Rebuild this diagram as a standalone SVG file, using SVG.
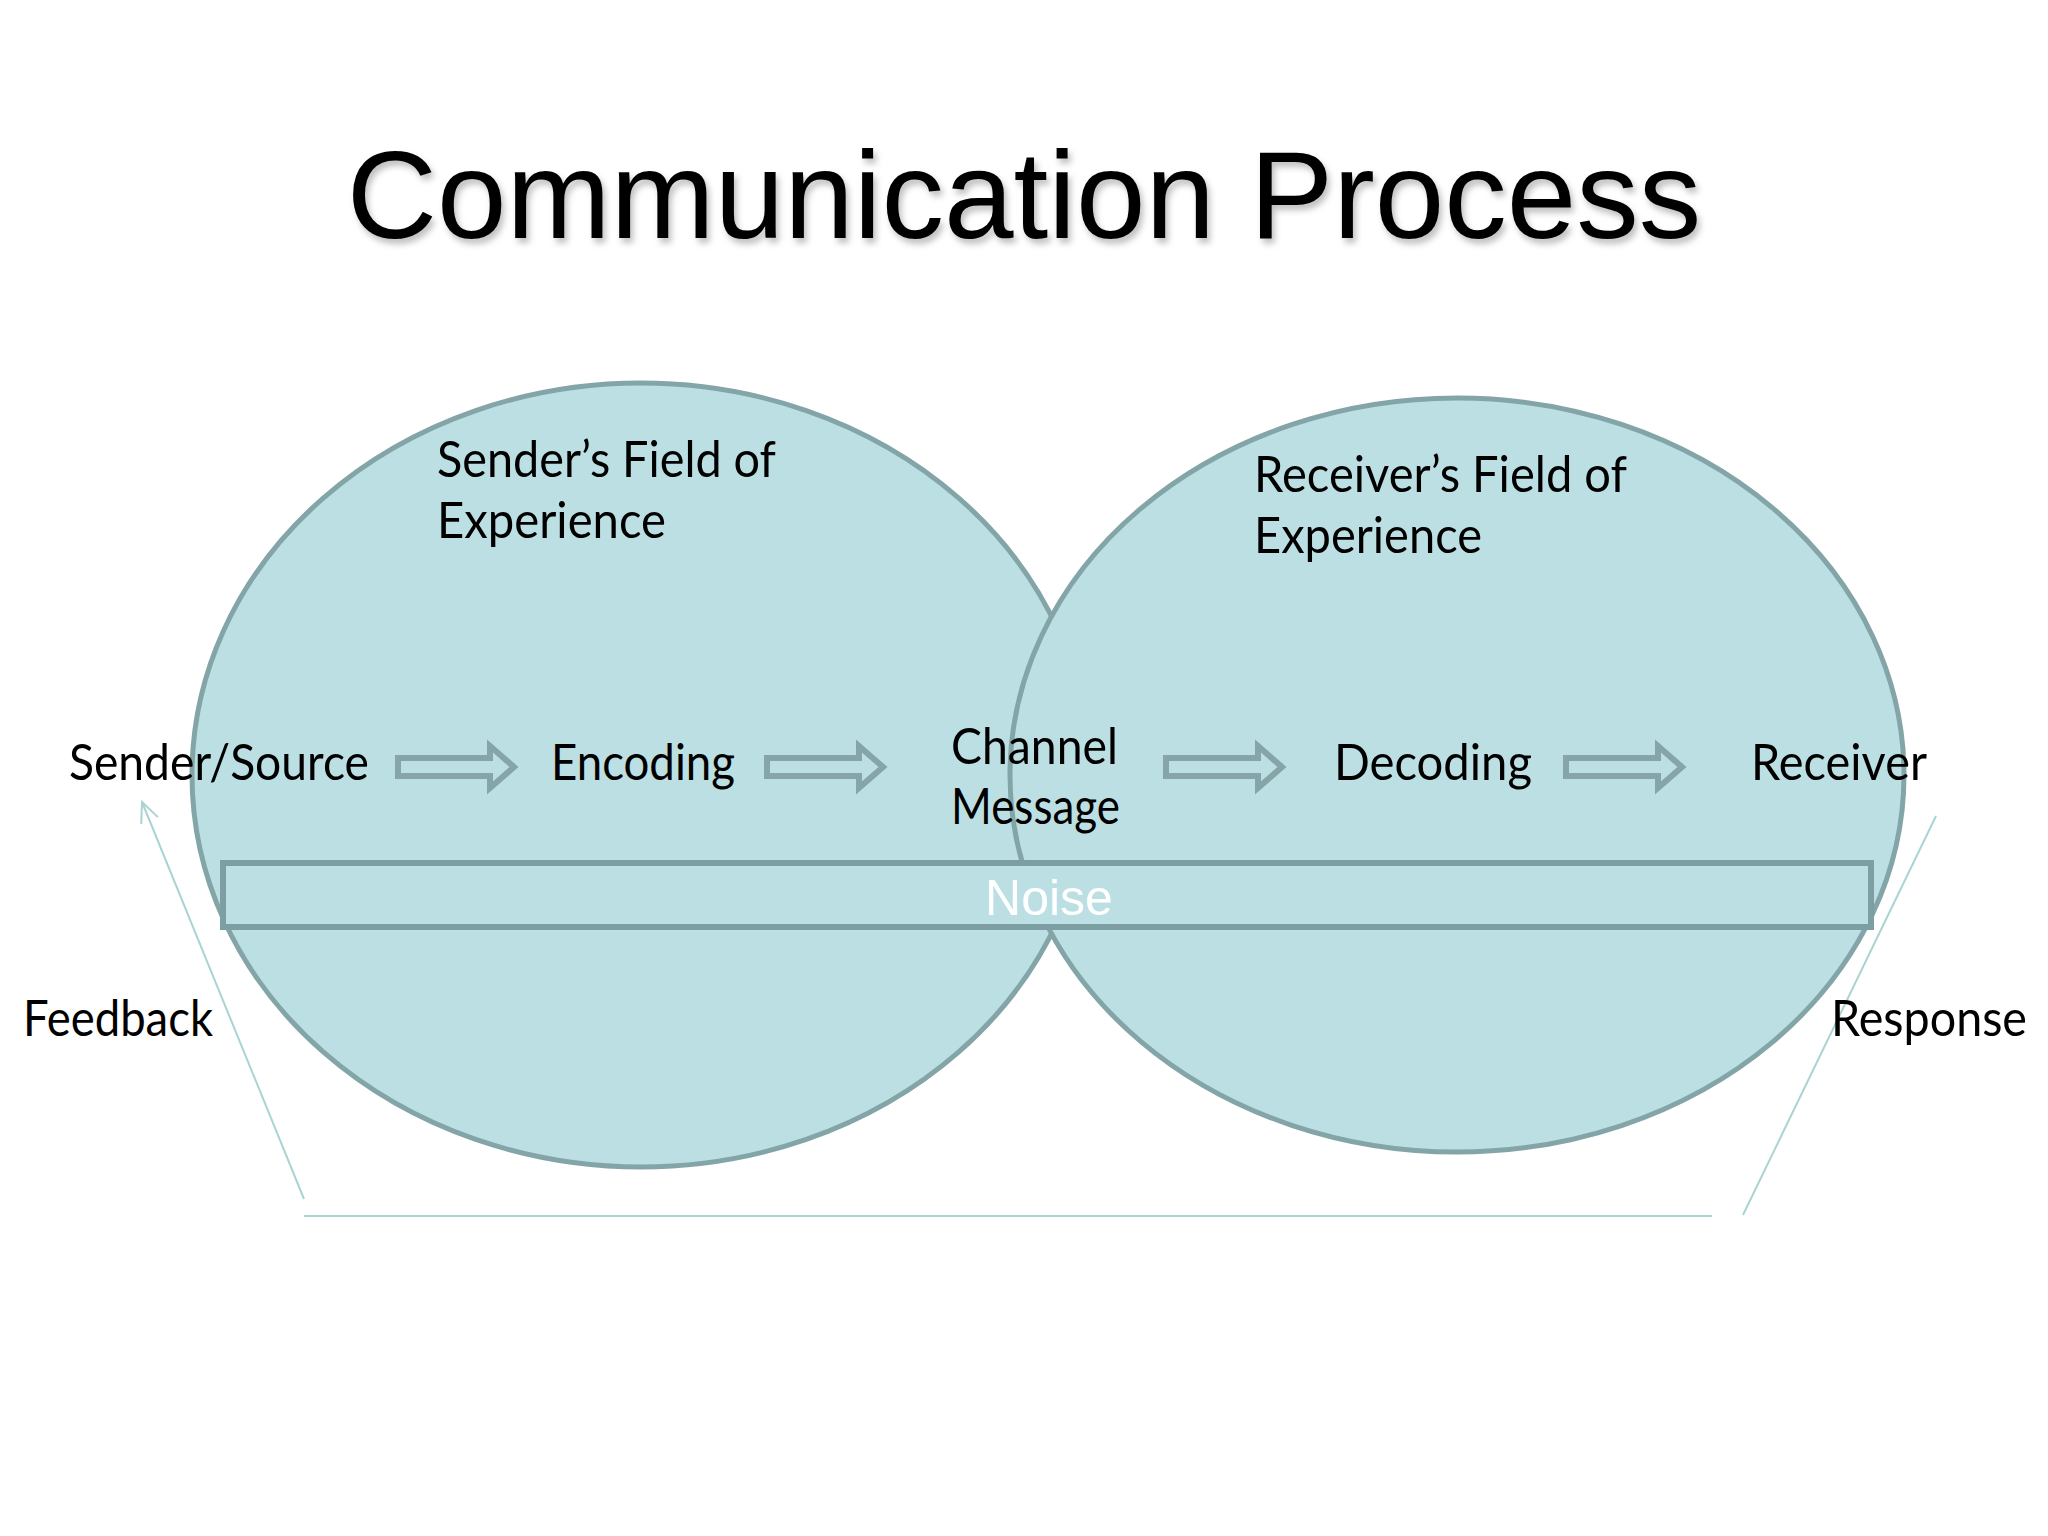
<svg xmlns="http://www.w3.org/2000/svg" width="2048" height="1536" viewBox="0 0 2048 1536">
  <defs>
    <style>
      .field { fill: #bcdfe3; stroke: #84a5a8; stroke-width: 5; }
      .noise { fill: #bcdfe3; stroke: #7d9ea2; stroke-width: 6; }
      .lbl { font-family: Lato, "Open Sans", "DejaVu Sans", sans-serif; font-size: 50px; fill: #000; }
      .title { font-family: "Liberation Sans", Arial, sans-serif; font-size: 125px; fill: #000; }
      .noise-txt { font-family: "Liberation Sans", Arial, sans-serif; font-size: 50px; fill: #fff; }
      .blk { fill: #bcdfe3; stroke: #86a5a8; stroke-width: 6; stroke-linejoin: miter; }
      .fb { fill: none; stroke: #a9d4d3; stroke-width: 2; }
    </style>
    <filter id="shadow" x="-5%" y="-20%" width="110%" height="150%">
      <feDropShadow dx="3" dy="5" stdDeviation="3" flood-color="#000" flood-opacity="0.25"/>
    </filter>
    <path id="blockArrow" d="M0,-9 H92 V-21 L116,0 L92,21 V9 H0 Z"/>
    <marker id="openArrow" viewBox="0 0 24 24" refX="22" refY="12" markerWidth="24" markerHeight="24" markerUnits="userSpaceOnUse" orient="auto">
      <path d="M2,3 L22,12 L2,21" fill="none" stroke="#a9d4d3" stroke-width="2"/>
    </marker>
  </defs>

  <rect x="0" y="0" width="2048" height="1536" fill="#ffffff"/>

  <g id="title">
    <text class="title" x="1024" y="238" text-anchor="middle" filter="url(#shadow)">Communication Process</text>
  </g>

  <g id="sender-field">
    <ellipse class="field" cx="641" cy="775" rx="449" ry="392"/>
  </g>
  <g id="receiver-field">
    <ellipse class="field" cx="1457" cy="775" rx="447" ry="377"/>
  </g>

  <g id="noise">
    <rect class="noise" x="223" y="863" width="1648" height="64"/>
    <text class="noise-txt" x="1049" y="915" text-anchor="middle">Noise</text>
  </g>

  <g id="connectors">
    <use href="#blockArrow" class="blk" x="398" y="767"/>
    <use href="#blockArrow" class="blk" x="767" y="767"/>
    <use href="#blockArrow" class="blk" x="1166" y="767"/>
    <use href="#blockArrow" class="blk" x="1566" y="767"/>
    <line class="fb" x1="1936" y1="816" x2="1743" y2="1215"/>
    <line class="fb" x1="1712" y1="1216" x2="304" y2="1216"/>
    <line class="fb" x1="304" y1="1199" x2="142" y2="802" marker-end="url(#openArrow)"/>
  </g>

  <g id="sender-field-label">
    <text class="lbl" x="437" y="477" textLength="339" lengthAdjust="spacingAndGlyphs">Sender’s Field of</text>
    <text class="lbl" x="437" y="538" textLength="229" lengthAdjust="spacingAndGlyphs">Experience</text>
  </g>
  <g id="receiver-field-label">
    <text class="lbl" x="1254" y="492" textLength="373" lengthAdjust="spacingAndGlyphs">Receiver’s Field of</text>
    <text class="lbl" x="1254" y="553" textLength="228" lengthAdjust="spacingAndGlyphs">Experience</text>
  </g>

  <g id="sender">
    <text class="lbl" x="69" y="780" textLength="300" lengthAdjust="spacingAndGlyphs">Sender/Source</text>
  </g>
  <g id="encoding">
    <text class="lbl" x="551" y="780" textLength="184" lengthAdjust="spacingAndGlyphs">Encoding</text>
  </g>
  <g id="channel-message">
    <text class="lbl" x="951" y="764" textLength="167" lengthAdjust="spacingAndGlyphs">Channel</text>
    <text class="lbl" x="951" y="824" textLength="169" lengthAdjust="spacingAndGlyphs">Message</text>
  </g>
  <g id="decoding">
    <text class="lbl" x="1334" y="780" textLength="198" lengthAdjust="spacingAndGlyphs">Decoding</text>
  </g>
  <g id="receiver">
    <text class="lbl" x="1751" y="780" textLength="176" lengthAdjust="spacingAndGlyphs">Receiver</text>
  </g>
  <g id="feedback">
    <text class="lbl" x="23" y="1036" textLength="190" lengthAdjust="spacingAndGlyphs">Feedback</text>
  </g>
  <g id="response">
    <text class="lbl" x="1831" y="1036" textLength="196" lengthAdjust="spacingAndGlyphs">Response</text>
  </g>
</svg>
